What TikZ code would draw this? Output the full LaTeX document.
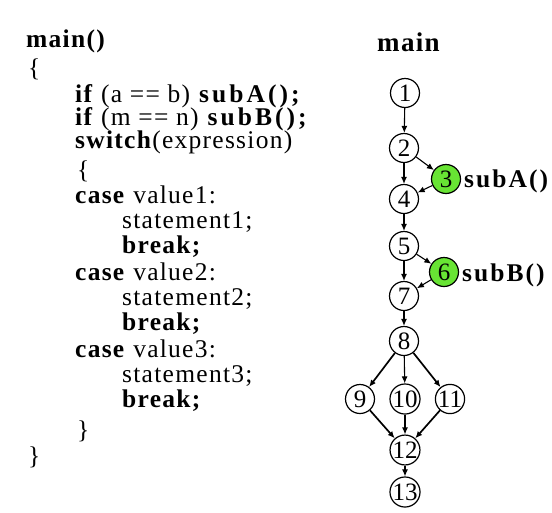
\documentclass[tikz,border=0pt]{standalone}
\usepackage{fontspec}
\setmainfont{Liberation Serif}
\newfontfamily\codefont{Liberation Serif}[LetterSpace=5]
\newcommand{\widebf}[1]{{\addfontfeature{LetterSpace=12}\textbf{#1}}}
\newcommand{\labbf}[1]{{\addfontfeature{LetterSpace=8}\textbf{#1}}}
\usetikzlibrary{arrows.meta}
\definecolor{limegreen}{RGB}{104,228,52}
\tikzset{
  code/.style={anchor=base west, inner sep=0pt, font=\codefont\fontsize{25.5}{27}\selectfont},
  vtx/.style={circle, draw, line width=1.2pt, minimum size=29pt, inner sep=0pt, font=\fontsize{25}{25}\selectfont, fill=white},
  subv/.style={vtx, fill=limegreen},
  arr/.style={-{Latex[length=7pt,width=6pt]}, line width=1.1pt},
  arrb/.style={-{Latex[length=7pt,width=6pt]}, line width=1.7pt},
}
\begin{document}
\begin{tikzpicture}[x=1pt,y=-1pt]
\useasboundingbox (0,0) rectangle (552,512);
% code listing
\node[code] (c0) at (26,47) {\textbf{main()}};
\node[code] (c1) at (28,76) {\{};
\node[code] (c2) at (75,102) {\textbf{if} (a == b) \widebf{subA();}};
\node[code] (c3) at (75,125) {\textbf{if} (m == n) \widebf{subB();}};
\node[code] (c4) at (75,148) {\textbf{switch}(expression)};
\node[code] (c5) at (77,178) {\{};
\node[code] (c6) at (75,203) {\textbf{case} value1:};
\node[code] (c7) at (122,228) {statement1;};
\node[code] (c8) at (122,253) {\textbf{break;}};
\node[code] (c9) at (75,280) {\textbf{case} value2:};
\node[code] (c10) at (122,305) {statement2;};
\node[code] (c11) at (122,330) {\textbf{break;}};
\node[code] (c12) at (75,357) {\textbf{case} value3:};
\node[code] (c13) at (122,382) {statement3;};
\node[code] (c14) at (122,407) {\textbf{break;}};
\node[code] (c15) at (77,438) {\}};
\node[code] (c16) at (28,464) {\}};
% graph
\node[code, font=\codefont\fontsize{27}{27}\selectfont] (title) at (377,51) {\textbf{main}};
\node[vtx] (n1) at (405,93) {1};
\node[vtx] (n2) at (404,148) {2};
\node[subv] (n3) at (446,179) {3};
\node[vtx] (n4) at (404,199) {4};
\node[vtx] (n5) at (404,246) {5};
\node[subv] (n6) at (444,272) {6};
\node[vtx] (n7) at (404,296) {7};
\node[vtx] (n8) at (404,341) {8};
\node[vtx] (n9) at (360,399) {9};
\node[vtx] (n10) at (405,399) {10};
\node[vtx] (n11) at (450,399) {11};
\node[vtx] (n12) at (405,450) {12};
\node[vtx] (n13) at (405,492) {13};
\node[code] (la) at (464,187) {\labbf{subA()}};
\node[code] (lb) at (462,281) {\labbf{subB()}};
\draw[arr] (n1) -- (n2);
\draw[arr] (n2) -- (n4);
\draw[arr] (n2) -- (n3);
\draw[arr] (n3) -- (n4);
\draw[arr] (n4) -- (n5);
\draw[arr] (n5) -- (n7);
\draw[arr] (n5) -- (n6);
\draw[arr] (n6) -- (n7);
\draw[arr] (n7) -- (n8);
\draw[arrb] (n8) -- (n9);
\draw[arr] (n8) -- (n10);
\draw[arrb] (n8) -- (n11);
\draw[arrb] (n9) -- (n12);
\draw[arr] (n10) -- (n12);
\draw[arrb] (n11) -- (n12);
\draw[arr] (n12) -- (n13);
\end{tikzpicture}
\end{document}
